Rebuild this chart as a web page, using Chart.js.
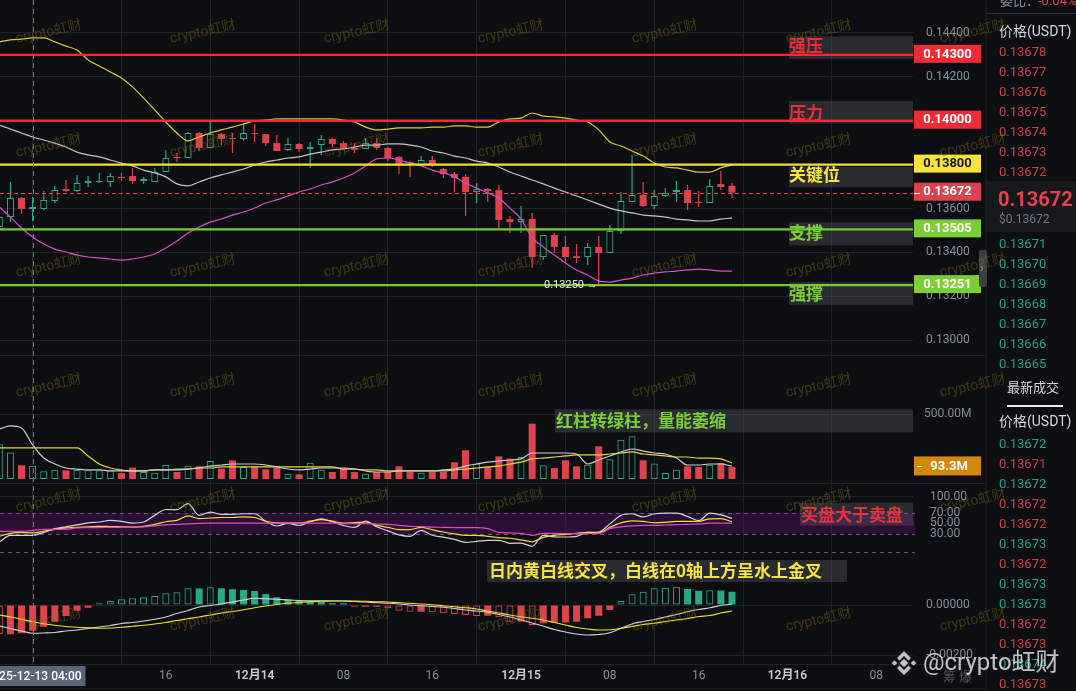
<!DOCTYPE html>
<html>
<head>
<meta charset="utf-8">
<script src="https://cdn.jsdelivr.net/npm/chart.js@4.4.1/dist/chart.umd.min.js"></script>
<style>
  html,body{margin:0;padding:0;background:#0d0e11;overflow:hidden;}
  #wrap{position:relative;width:1076px;height:691px;background:#0d0e11;overflow:hidden;font-family:Roboto,"Noto Sans CJK SC",sans-serif;}
  #c{position:absolute;left:0;top:0;}
  #book,#wms{position:absolute;left:0;top:0;width:1076px;height:691px;pointer-events:none;}
  .t{position:absolute;white-space:nowrap;line-height:18px;}
  .wm{position:absolute;font-size:14px;line-height:16px;color:rgba(140,118,30,0.40);transform:rotate(-12deg);transform-origin:50% 50%;white-space:nowrap;font-family:Roboto,"Noto Sans CJK SC",sans-serif;}
</style>
</head>
<body>
<div id="wrap">
  <canvas id="c" width="988" height="691"></canvas>
  <div id="book"></div>
  <div id="wms"></div>
</div>
<script>
// ---------------- DATA ----------------
// hour offsets relative to 2025-12-13 04:00 (1h candles)
const hours = [-3,-2,-1,0,1,2,3,4,5,6,7,8,9,10,11,12,13,14,15,16,17,18,19,20,21,22,23,24,25,26,27,28,29,30,31,32,33,34,35,36,37,38,39,40,41,42,43,44,45,46,47,48,49,50,51,52,53,54,55,56,57,58,59,60,61,62,63];
const open = [0.13516,0.13561,0.13648,0.13598,0.13598,0.13634,0.13689,0.13680,0.13716,0.13721,
  0.13721,0.13744,0.13748,0.13725,0.13721,0.13766,0.13835,0.13830,0.13944,0.13876,
  0.13939,0.13921,0.13917,0.13944,0.13939,0.13898,0.13867,0.13894,0.13871,0.13889,
  0.13917,0.13898,0.13876,0.13871,0.13898,0.13876,0.13835,0.13812,0.13798,0.13821,
  0.13780,0.13757,0.13744,0.13675,0.13689,0.13684,0.13552,0.13538,0.13552,0.13379,
  0.13479,0.13425,0.13383,0.13379,0.13425,0.13397,0.13497,0.13630,0.13662,0.13611,
  0.13657,0.13675,0.13684,0.13630,0.13625,0.13712,0.13703];
const high = [0.13570,0.13721,0.13652,0.13652,0.13680,0.13703,0.13730,0.13753,0.13748,0.13762,
  0.13762,0.13762,0.13785,0.13744,0.13785,0.13867,0.13853,0.13949,0.13949,0.13994,
  0.13944,0.13944,0.13990,0.13985,0.13939,0.13935,0.13921,0.13898,0.13903,0.13935,
  0.13921,0.13908,0.13898,0.13921,0.13921,0.13880,0.13839,0.13816,0.13839,0.13839,
  0.13785,0.13766,0.13757,0.13716,0.13693,0.13707,0.13566,0.13611,0.13580,0.13479,
  0.13488,0.13475,0.13438,0.13443,0.13475,0.13525,0.13675,0.13844,0.13721,0.13684,
  0.13693,0.13725,0.13707,0.13680,0.13734,0.13771,0.13716];
const low = [0.13507,0.13538,0.13575,0.13543,0.13593,0.13625,0.13675,0.13675,0.13698,0.13716,
  0.13698,0.13725,0.13712,0.13712,0.13721,0.13766,0.13812,0.13830,0.13862,0.13876,
  0.13889,0.13853,0.13908,0.13903,0.13885,0.13862,0.13862,0.13857,0.13785,0.13844,
  0.13880,0.13871,0.13853,0.13871,0.13867,0.13816,0.13757,0.13744,0.13798,0.13789,
  0.13739,0.13675,0.13566,0.13625,0.13630,0.13507,0.13488,0.13488,0.13329,0.13365,
  0.13397,0.13352,0.13352,0.13343,0.13250,0.13397,0.13484,0.13630,0.13607,0.13598,
  0.13652,0.13630,0.13593,0.13607,0.13625,0.13684,0.13648];
const close = [0.13561,0.13648,0.13598,0.13607,0.13639,0.13684,0.13680,0.13716,0.13725,0.13725,
  0.13748,0.13739,0.13725,0.13734,0.13766,0.13830,0.13830,0.13944,0.13876,0.13939,
  0.13917,0.13917,0.13944,0.13939,0.13898,0.13862,0.13894,0.13871,0.13880,0.13917,
  0.13894,0.13871,0.13867,0.13898,0.13876,0.13830,0.13803,0.13807,0.13821,0.13798,
  0.13757,0.13739,0.13675,0.13689,0.13680,0.13548,0.13538,0.13552,0.13379,0.13479,
  0.13425,0.13379,0.13375,0.13425,0.13397,0.13497,0.13634,0.13662,0.13611,0.13657,
  0.13671,0.13684,0.13625,0.13625,0.13703,0.13698,0.13672];
const bbUpper = [0.14359,0.14368,0.14372,0.14377,0.14377,0.14359,0.14340,0.14322,0.14277,0.14249,
  0.14222,0.14195,0.14154,0.14103,0.14049,0.13994,0.13944,0.13908,0.13926,0.13944,
  0.13958,0.13971,0.13985,0.13999,0.14003,0.14008,0.14008,0.14008,0.14008,0.14008,
  0.14008,0.14003,0.13994,0.13971,0.13958,0.13962,0.13967,0.13967,0.13967,0.13971,
  0.13971,0.13976,0.13976,0.13971,0.13971,0.13994,0.14008,0.14012,0.14035,0.14021,
  0.14017,0.14012,0.14003,0.13994,0.13958,0.13903,0.13885,0.13862,0.13839,0.13807,
  0.13789,0.13785,0.13775,0.13766,0.13766,0.13785,0.13798];
const bbMid = [0.13980,0.13962,0.13944,0.13926,0.13912,0.13898,0.13880,0.13857,0.13844,0.13835,
  0.13821,0.13807,0.13794,0.13775,0.13762,0.13744,0.13712,0.13703,0.13721,0.13739,
  0.13753,0.13766,0.13780,0.13798,0.13812,0.13821,0.13830,0.13835,0.13848,0.13857,
  0.13867,0.13871,0.13880,0.13889,0.13889,0.13894,0.13894,0.13889,0.13880,0.13862,
  0.13853,0.13839,0.13830,0.13816,0.13807,0.13789,0.13766,0.13748,0.13730,0.13712,
  0.13693,0.13675,0.13657,0.13639,0.13620,0.13602,0.13589,0.13580,0.13570,0.13566,
  0.13561,0.13552,0.13548,0.13543,0.13543,0.13552,0.13557];
const bbLower = [0.13607,0.13561,0.13511,0.13470,0.13438,0.13415,0.13402,0.13388,0.13379,0.13375,
  0.13370,0.13365,0.13370,0.13379,0.13393,0.13420,0.13452,0.13488,0.13516,0.13538,
  0.13552,0.13570,0.13584,0.13602,0.13625,0.13639,0.13657,0.13675,0.13689,0.13707,
  0.13721,0.13739,0.13762,0.13794,0.13826,0.13830,0.13821,0.13807,0.13794,0.13775,
  0.13762,0.13744,0.13716,0.13693,0.13671,0.13648,0.13602,0.13552,0.13466,0.13425,
  0.13388,0.13352,0.13320,0.13297,0.13270,0.13265,0.13274,0.13283,0.13297,0.13306,
  0.13311,0.13315,0.13320,0.13324,0.13320,0.13315,0.13315];
// volume in millions
const volume = [268,204,106,103,59,72,67,72,67,67,
  67,46,88,54,49,111,54,103,98,139,
  80,144,93,98,75,85,41,36,126,72,
  54,80,54,41,54,54,98,54,49,54,
  54,129,222,119,93,175,157,170,428,106,
  85,144,98,111,253,152,304,330,144,119,
  46,72,98,93,111,124,93.3];
const volMaWhite = [387,410,394,263,162,116,85,77,70,70,
  62,62,62,62,70,70,70,77,85,100,
  108,116,116,116,108,93,77,70,77,85,
  85,85,77,62,54,54,62,62,62,62,
  70,77,100,116,131,139,147,155,201,201,
  201,201,193,116,147,178,209,232,216,201,
  193,162,108,108,116,116,100];
const volMaYellow = [240,240,240,240,240,240,240,240,178,116,
  85,70,62,62,70,70,77,77,85,85,
  93,93,93,93,93,93,93,93,93,93,
  93,77,77,70,70,62,62,62,62,62,
  62,70,77,85,93,100,116,131,155,162,
  170,178,186,186,186,193,201,209,193,186,
  178,170,170,162,162,155,124];
const rsiWhite = [15,27.6,27.6,27.6,33,40,43.5,47,51,52.5,
  55.7,53.8,50.6,52.5,65,76,75.7,87,65,71,
  67,67,68,68,54,45,50,46,53,58.5,
  53,46,42.5,54.4,43.5,36,28.5,25.7,37,27.6,
  24,20,14.4,16.3,18.2,18.2,12.6,13,7,27.6,
  24.8,24.4,25.7,33,33.8,49,65,68,62,68,
  69,69,63,55,69,66,59.4];
const rsiYellow = [25.7,31.3,33,32,35,38.8,41.6,42.5,43.5,44.4,
  44,43.5,43,44.4,48,53,55.7,64,59,60,
  61,61,62,61,54,51,50.6,50.6,54,57,
  54,50.6,51.4,52.5,46.3,42.5,38.3,38.3,42.5,38,
  33.8,30.4,27.6,27.6,25.7,23.3,22,19,15.4,23.8,
  27.6,29.4,31.3,33,32,42.5,51,54.8,53.8,51,
  52,53.8,53.8,53.8,58.5,58.9,52.9];
const rsiPink = [35,35,35,37,38.8,38.8,38.8,41.6,41.8,42,
  42.5,42.5,43,43.5,45.4,47.3,48.2,49,50,50.6,
  50.6,50.6,50.6,50.6,50.6,50.6,50.6,50.6,50.6,50.6,
  50.6,49.5,49.5,49.5,48.8,48.2,46.3,44.4,44,43,
  42.5,42,42,42,40,33,32,31.3,27.6,31.3,
  31.3,30.8,30.8,30.8,30.8,40,43.5,45.4,46.3,46.3,
  46.9,47.6,48.2,49,50.4,50.6,50.6];
const macdHist = [-0.00117,-0.00117,-0.00113,-0.00103,-0.00087,-0.00067,-0.00044,-0.00023,-0.00011,0.00007,
  0.00016,0.00023,0.00027,0.00031,0.00036,0.00047,0.00051,0.00067,0.00066,0.00071,
  0.00067,0.00063,0.00060,0.00056,0.00044,0.00031,0.00023,0.00016,0.00016,0.00012,
  0.00007,0.00007,-0.00007,-0.00007,-0.00007,-0.00013,-0.00023,-0.00027,-0.00027,-0.00029,
  -0.00033,-0.00036,-0.00040,-0.00044,-0.00043,-0.00049,-0.00067,-0.00066,-0.00080,-0.00073,
  -0.00071,-0.00070,-0.00067,-0.00053,-0.00043,-0.00020,0.00016,0.00043,0.00053,0.00067,
  0.00069,0.00073,0.00064,0.00057,0.00059,0.00058,0.00053];
const macdDif = [-0.00084,-0.00094,-0.00104,-0.00113,-0.00112,-0.00110,-0.00104,-0.00100,-0.00094,-0.00088,
  -0.00082,-0.00074,-0.00070,-0.00064,-0.00057,-0.00048,-0.00034,-0.00022,-0.00008,-0.00002,
  0.00004,0.00012,0.00020,0.00027,0.00025,0.00023,0.00020,0.00018,0.00017,0.00017,
  0.00016,0.00016,0.00014,0.00012,0.00009,0.00007,0.00004,0.00000,-0.00003,-0.00006,
  -0.00009,-0.00014,-0.00020,-0.00024,-0.00029,-0.00038,-0.00048,-0.00060,-0.00072,-0.00084,
  -0.00098,-0.00108,-0.00116,-0.00120,-0.00118,-0.00111,-0.00093,-0.00076,-0.00066,-0.00058,
  -0.00048,-0.00038,-0.00027,-0.00018,-0.00011,-0.00002,0.00004];
const macdDea = [-0.00040,-0.00048,-0.00057,-0.00067,-0.00075,-0.00081,-0.00086,-0.00089,-0.00091,-0.00093,
  -0.00092,-0.00089,-0.00085,-0.00081,-0.00076,-0.00070,-0.00062,-0.00055,-0.00048,-0.00040,
  -0.00032,-0.00026,-0.00019,-0.00011,-0.00004,0.00002,0.00007,0.00011,0.00013,0.00015,
  0.00016,0.00016,0.00016,0.00015,0.00013,0.00012,0.00009,0.00007,0.00004,0.00001,
  -0.00003,-0.00007,-0.00011,-0.00016,-0.00024,-0.00032,-0.00040,-0.00047,-0.00053,-0.00060,
  -0.00070,-0.00080,-0.00090,-0.00096,-0.00100,-0.00099,-0.00094,-0.00086,-0.00078,-0.00073,
  -0.00066,-0.00060,-0.00054,-0.00046,-0.00042,-0.00032,-0.00024];

// axis ticks
const tickHours = [4,12,20,28,36,44,52,60,68,76];
const tickLabels = ['08','16','12月14','08','16','12月15','08','16','12月16','08'];
const priceTicks = [0.130,0.132,0.134,0.136,0.138,0.140,0.142,0.144];
const volTicks = [500];
const rsiTicks = [100,70,50,30];
const macdTicks = [0,-0.002];

// key levels
const levelPrices = [0.14300,0.14000,0.13800,0.13505,0.13251];
const levelNames = ['强压','压力','关键位','支撑','强撑'];
const lastPrice = 0.13672;
const crosshairHour = 0;
const crosshairLabel = '2025-12-13 04:00';
const volNote = '红柱转绿柱，量能萎缩';
const rsiNote = '买盘大于卖盘';
const macdNote = '日内黄白线交叉，白线在0轴上方呈水上金叉';

// order book text
const ratioLabel = '委比：';
const ratioValue = '-0.04%';
const askPrices = ['0.13678','0.13677','0.13676','0.13675','0.13674','0.13673','0.13672'];
const bidPrices = ['0.13671','0.13670','0.13669','0.13668','0.13667','0.13666','0.13665'];
const tradePrices = ['0.13672','0.13671','0.13672','0.13672','0.13672','0.13673','0.13672','0.13673','0.13673','0.13672','0.13673','0.13674','0.13673'];
const tradeSides = ['b','s','b','s','s','b','s','b','b','s','s','b','s'];

// ---------------- STYLE ----------------
const BG = '#0d0e11', GRID = '#1f2226', AXIS_TXT = '#848e9c';
const GREEN = '#29a981', RED = '#de434d';
const FONT = 'Roboto, "Noto Sans CJK SC", sans-serif';
const CJK = '"Noto Sans CJK SC", sans-serif';
const LEVEL_COLORS = ['#ee2b37','#ee2b37','#f3df36','#74c934','#74c934'];
const LEVEL_BOX = ['#ee2b37','#ee2b37','#f6e43c','#7bcf35','#7bcf35'];
const LEVEL_BOX_TXT = ['#ffffff','#ffffff','#1b1b1b','#ffffff','#ffffff'];
const NOTE_TOP = [-18.5,-19.7,2,-7,-3];
const NOTE_H = [22.5,22.5,20.5,23,23];
const NOTE_DY = [-9,-8.5,10,3.5,8];
const NOTE_BG = 'rgba(100,102,112,0.33)';

const isUp = close.map((c,i)=>c>=open[i]);
const pts = arr => hours.map((h,i)=>({x:h, y:arr[i]}));
const upColor = i => isUp[i] ? GREEN : RED;
const macdHollow = macdHist.map((v,i)=>{ const p = i ? macdHist[i-1] : 0; return v >= 0 ? v > p : v < p; });

function lineDS(axis, arr, color, order){
  return {type:'line', yAxisID:axis, data:pts(arr), borderColor:color, borderWidth:1.2,
    pointRadius:0, cubicInterpolationMode:'monotone', order:order||1};
}
function hollowBar(axis, data, thick, hollowFn, colorFn, order){
  return {type:'bar', yAxisID:axis, data, grouped:false, barThickness:thick, maxBarThickness:thick,
    inflateAmount:0, borderSkipped:false, order:order||10,
    backgroundColor: c => hollowFn(c.dataIndex) ? 'rgba(0,0,0,0)' : colorFn(c.dataIndex),
    borderColor: c => colorFn(c.dataIndex),
    borderWidth: c => hollowFn(c.dataIndex) ? 1 : 0};
}

const datasets = [
  lineDS('yPrice', bbUpper, '#ddcb36'),
  lineDS('yPrice', bbMid, '#c4c5c9'),
  lineDS('yPrice', bbLower, '#d94cc9'),
  {type:'bar', yAxisID:'yPrice', grouped:false, barThickness:1.2, maxBarThickness:1.2, inflateAmount:0, order:12,
    data: hours.map((h,i)=>({x:h, y:[low[i], Math.min(open[i],close[i])]})),
    backgroundColor: c => upColor(c.dataIndex), borderWidth:0},
  {type:'bar', yAxisID:'yPrice', grouped:false, barThickness:1.2, maxBarThickness:1.2, inflateAmount:0, order:12,
    data: hours.map((h,i)=>({x:h, y:[Math.max(open[i],close[i]), high[i]]})),
    backgroundColor: c => upColor(c.dataIndex), borderWidth:0},
  hollowBar('yPrice', hours.map((h,i)=>({x:h, y:[open[i], close[i]]})), 7, i=>isUp[i], upColor, 11),
  hollowBar('yVol', pts(volume), 7, i=>isUp[i], upColor, 11),
  lineDS('yVol', volMaWhite, '#c9cbd0'),
  lineDS('yVol', volMaYellow, '#e6d43a'),
  lineDS('yRsi', rsiPink, '#e048c8'),
  lineDS('yRsi', rsiYellow, '#f0df33'),
  lineDS('yRsi', rsiWhite, '#d2d4d8'),
  hollowBar('yMacd', pts(macdHist), 7, i=>macdHollow[i], i=> macdHist[i] >= 0 ? GREEN : RED, 11),
  lineDS('yMacd', macdDea, '#f0df33'),
  lineDS('yMacd', macdDif, '#d2d4d8')
];

function yAxis(weight, min, max, ticks, fmt, pad, gridFn){
  return {type:'linear', position:'right', stack:'panels', stackWeight:weight, min, max,
    afterBuildTicks: s => { s.ticks = ticks.map(v=>({value:v})); },
    afterFit: s => { s.width = 75; s.paddingTop = 0; s.paddingBottom = 0; },
    border:{display:false},
    grid:{color: gridFn || GRID, lineWidth:1, drawTicks:false},
    ticks:{autoSkip:false, color:AXIS_TXT, font:{family:'Roboto', size:12}, padding:pad, callback:fmt}};
}

function hline(ctx, x1, x2, y){ ctx.beginPath(); ctx.moveTo(x1,y); ctx.lineTo(x2,y); ctx.stroke(); }

const overlay = {
  id:'overlay',
  beforeDatasetsDraw(chart){
    const {ctx, chartArea:a, scales:s} = chart;
    ctx.save();
    // panel separators
    ctx.strokeStyle = GRID; ctx.lineWidth = 1;
    hline(ctx, 0, 985, Math.round(s.yPrice.bottom)+0.5);
    hline(ctx, 0, 985, Math.round(s.yVol.bottom)+0.5);
    hline(ctx, 0, 985, Math.round(s.yMacd.bottom)+0.5);
    ctx.strokeStyle = '#191b1f';
    hline(ctx, 0, 985, 688.5);
    // RSI band
    const y70 = s.yRsi.getPixelForValue(70), y30 = s.yRsi.getPixelForValue(30);
    ctx.fillStyle = 'rgba(110,20,130,0.32)';
    ctx.fillRect(a.left, y70, a.right + 2 - a.left, y30 - y70);
    ctx.setLineDash([4,4]); ctx.strokeStyle = '#5d6169';
    hline(ctx, a.left, a.right+2, Math.round(y70)+0.5);
    hline(ctx, a.left, a.right+2, Math.round(y30)+0.5);
    hline(ctx, a.left, a.right+2, Math.round(s.yRsi.bottom)+0.5);
    ctx.setLineDash([]);
    // note boxes
    ctx.fillStyle = NOTE_BG;
    levelPrices.forEach((p,i)=>{
      const y = s.yPrice.getPixelForValue(p);
      ctx.fillRect(789, y + NOTE_TOP[i], a.right - 789, NOTE_H[i]);
    });
    const v500 = s.yVol.getPixelForValue(500);
    ctx.fillRect(555, v500 - 5, a.right - 555, 23);
    ctx.fillRect(800, y70 - 10, a.right - 800, 23);
    ctx.fillRect(487, 560, 360, 22);
    ctx.restore();
  },
  afterDatasetsDraw(chart){
    const {ctx, chartArea:a, scales:s} = chart;
    const yp = s.yPrice;
    ctx.save();
    // level lines
    levelPrices.forEach((p,i)=>{
      const y = yp.getPixelForValue(p);
      ctx.strokeStyle = LEVEL_COLORS[i]; ctx.lineWidth = 2.4;
      hline(ctx, a.left, a.right, y);
    });
    // last price dashed line
    const yl = Math.round(yp.getPixelForValue(lastPrice)) + 0.5;
    ctx.lineWidth = 1.2; ctx.setLineDash([4,3]); ctx.strokeStyle = '#ec3f4b';
    hline(ctx, a.left, a.right, yl);
    // crosshair
    ctx.lineWidth = 1;
    const xc = Math.round(s.x.getPixelForValue(crosshairHour)) + 0.5;
    ctx.setLineDash([5,4]); ctx.strokeStyle = '#6f7888';
    ctx.beginPath(); ctx.moveTo(xc, a.top); ctx.lineTo(xc, a.bottom); ctx.stroke();
    ctx.setLineDash([]);
    // notes text
    ctx.textBaseline = 'middle'; ctx.textAlign = 'left';
    ctx.font = 'bold 17px ' + CJK;
    levelPrices.forEach((p,i)=>{
      const y = yp.getPixelForValue(p);
      ctx.fillStyle = LEVEL_BOX[i];
      ctx.fillText(levelNames[i], 789, y + NOTE_DY[i]);
    });
    const v500 = s.yVol.getPixelForValue(500);
    ctx.fillStyle = '#7bcf35'; ctx.fillText(volNote, 556, v500 + 6);
    const y70 = s.yRsi.getPixelForValue(70);
    ctx.fillStyle = '#f0303e'; ctx.fillText(rsiNote, 801, y70 + 2);
    ctx.fillStyle = '#f6e43c'; ctx.fillText(macdNote, 489, 571);
    // right-side level labels
    ctx.font = 'bold 13px Roboto'; ctx.textAlign = 'center';
    const boxes = levelPrices.map((p,i)=>({p, bg:LEVEL_BOX[i], fg:LEVEL_BOX_TXT[i]}));
    boxes.push({p:lastPrice, bg:'#d9434d', fg:'#ffffff'});
    boxes.forEach(b=>{
      const y = yp.getPixelForValue(b.p);
      ctx.fillStyle = b.bg; ctx.fillRect(a.right+1, y-10, 67, 18);
      ctx.fillStyle = b.fg; ctx.fillText(b.p.toFixed(5), a.right + 34.5, y - 0.5);
    });
    ctx.fillStyle = '#ffffff'; ctx.fillRect(a.right+1, yl-0.5, 6, 1);
    // volume last value label
    const vl = volume[volume.length-1];
    const yv = s.yVol.getPixelForValue(vl) - 1;
    ctx.fillStyle = '#d4870b'; ctx.fillRect(a.right+1, yv-9.5, 67, 19);
    ctx.fillStyle = '#ffffff'; ctx.fillText(vl.toFixed(1)+'M', a.right + 36, yv + 0.5);
    ctx.fillRect(a.right+4, Math.round(yv), 5, 1);
    // lowest low marker
    let li = 0; low.forEach((v,i)=>{ if (v < low[li]) li = i; });
    const xl = s.x.getPixelForValue(hours[li]), ylo = yp.getPixelForValue(low[li]);
    ctx.font = '11px Roboto'; ctx.textAlign = 'right'; ctx.fillStyle = '#eef0f3';
    ctx.fillText(low[li].toFixed(5) + ' →', xl - 1, ylo);
    // crosshair time label
    ctx.fillStyle = '#5b6578'; ctx.fillRect(xc - 52, a.bottom + 2, 104, 20);
    ctx.fillStyle = '#ffffff'; ctx.font = '500 12px Roboto'; ctx.textAlign = 'center';
    ctx.fillText(crosshairLabel, xc, a.bottom + 12.5);
    ctx.restore();
  }
};

const chart = new Chart(document.getElementById('c'), {
  type:'line',
  data:{datasets},
  plugins:[overlay],
  options:{
    responsive:false, maintainAspectRatio:false, animation:false, events:[],
    layout:{padding:0},
    plugins:{legend:{display:false}, tooltip:{enabled:false}},
    scales:{
      x:{type:'linear', position:'bottom', min:-2.94, max:79.31, offset:false,
        afterBuildTicks: s => { s.ticks = tickHours.map(v=>({value:v})); },
        afterFit: s => { s.height = 27; s.paddingLeft = 0; s.paddingRight = 0; },
        border:{display:false},
        grid:{color:GRID, lineWidth:1, drawTicks:false},
        ticks:{autoSkip:false, maxRotation:0, minRotation:0, padding:5,
          callback:(v,i)=>tickLabels[i],
          color: c => (tickLabels[c.index]||'').includes('月') ? '#c5cad3' : AXIS_TXT,
          font: c => ({family:FONT, size:12, weight:(tickLabels[c.index]||'').includes('月') ? '600' : 'normal'})}},
      yPrice: yAxis(355, 0.129326, 0.145499, priceTicks, v=>v.toFixed(5), 13),
      yVol: yAxis(128, -31, 958.5, volTicks, v=>v.toFixed(2)+'M', 11),
      yRsi: yAxis(69, -3.75, 125.7, rsiTicks, v=>v.toFixed(2), 17, c => (c.tick && c.tick.value === 100) ? GRID : 'rgba(0,0,0,0)'),
      yMacd: yAxis(112, -0.00236, 0.00212, macdTicks, v=>v.toFixed(5), 13)
    }
  }
});

// ---------------- ORDER BOOK (HTML text) ----------------
const book = document.getElementById('book');
function addText(parent, txt, x, cy, css){
  const d = document.createElement('div');
  d.className = 't'; d.textContent = txt;
  d.style.cssText += `left:${x}px;top:${cy-9}px;` + css;
  parent.appendChild(d); return d;
}
function addBox(parent, x, y, w, h, css){
  const d = document.createElement('div');
  d.style.cssText = `position:absolute;left:${x}px;top:${y}px;width:${w}px;height:${h}px;` + css;
  parent.appendChild(d); return d;
}
addBox(book, 985, 0, 2, 691, 'background:#16181c;');
addBox(book, 987, 181, 89, 51, 'background:#16181c;');
addBox(book, 987, 13, 89, 1, 'background:#2b2f36;');
addText(book, ratioLabel, 1000, 1, 'font-size:13px;color:#848e9c;');
addText(book, ratioValue, 1038, 1, 'font-size:13px;color:#e0454f;');
addText(book, '价格(USDT)', 999, 31, 'font-size:14px;color:#d2d5db;');
askPrices.forEach((p,i)=>addText(book, p, 999, 51.5 + 20*i, 'font-size:13px;color:#cc3f49;'));
addText(book, String(lastPrice.toFixed(5)), 998, 199, 'font-size:20px;font-weight:bold;color:#e5424d;');
addText(book, '$' + lastPrice.toFixed(5), 999, 219, 'font-size:12px;color:#6f7887;');
bidPrices.forEach((p,i)=>addText(book, p, 999, 243.5 + 20*i, 'font-size:13px;color:#27a17c;'));
addText(book, '最新成交', 1007, 388, 'font-size:13px;color:#d2d5db;');
addBox(book, 1007, 405, 56, 2, 'background:#eaecef;');
addText(book, '价格(USDT)', 999, 421, 'font-size:14px;color:#d2d5db;');
tradePrices.forEach((p,i)=>addText(book, p, 999, 444 + 20*i, 'font-size:13px;color:' + (tradeSides[i]==='b' ? '#27a17c' : '#cc3f49') + ';'));
// scroll handle
addBox(book, 979, 250, 8, 37, 'background:#3a3e45;border-radius:2px;');
addText(book, '›', 980, 268, 'font-size:12px;color:#9aa0aa;');

// ---------------- WATERMARKS ----------------
const wms = document.getElementById('wms');
const wmX = [15,169,323,477,631,785,939];
const wmY = [31,145,265,385,500,619];
wmY.forEach(y=>wmX.forEach(x=>{
  const d = document.createElement('div'); d.className = 'wm'; d.textContent = 'crypto虹财';
  d.style.left = x + 'px'; d.style.top = (y - 8) + 'px'; wms.appendChild(d);
}));
addText(wms, '筹  爆', 943, 676, 'font-size:13px;color:#4d525a;font-family:' + CJK + ';');
const logo = document.createElement('div');
logo.style.cssText = 'position:absolute;left:890px;top:649px;width:28px;height:28px;';
logo.innerHTML = '<svg width="28" height="28" viewBox="0 0 28 28"><g fill="rgba(225,225,228,0.85)">' +
  '<rect x="11" y="11" width="6" height="6" transform="rotate(45 14 14)"/>' +
  '<path d="M14 2 L21 9 L18.5 11.5 L14 7 L9.5 11.5 L7 9 Z"/>' +
  '<path d="M14 26 L7 19 L9.5 16.5 L14 21 L18.5 16.5 L21 19 Z"/>' +
  '<rect x="2.5" y="12" width="4" height="4" transform="rotate(45 4.5 14)"/>' +
  '<rect x="21.5" y="12" width="4" height="4" transform="rotate(45 23.5 14)"/></g></svg>';
wms.appendChild(logo);
addText(wms, '@crypto虹财', 923, 662, 'font-size:24px;line-height:28px;top:648px;color:rgba(232,232,235,0.82);font-family:' + FONT + ';');
</script>
</body>
</html>
